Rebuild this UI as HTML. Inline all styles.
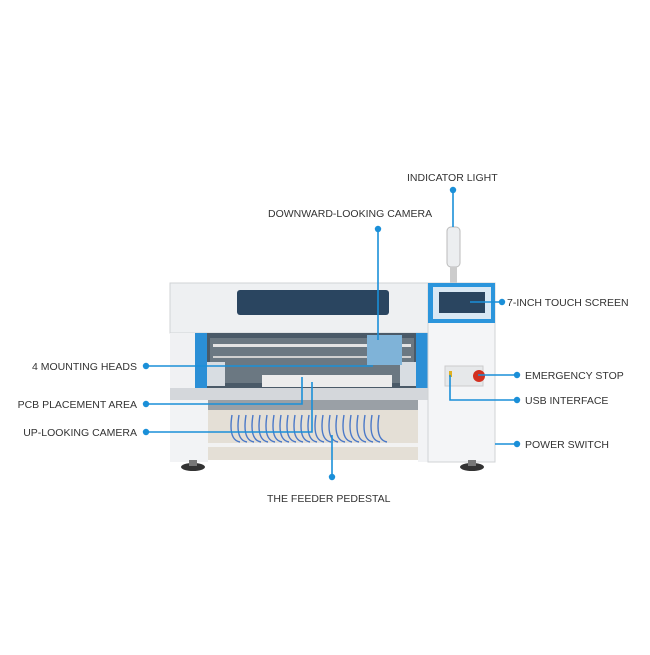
<!DOCTYPE html>
<html><head><style>
body{margin:0;background:#fff;}
svg text{font-family:"Liberation Sans",sans-serif;font-size:10.5px;fill:#333;}
</style></head><body>
<svg width="650" height="650" viewBox="0 0 650 650" xmlns="http://www.w3.org/2000/svg">
<rect width="650" height="650" fill="#fff"/>
<!-- indicator light -->
<rect x="447" y="227" width="13" height="40" rx="4" fill="#eceef0" stroke="#bbb"/>
<rect x="450" y="267" width="7" height="16" fill="#ccc"/>
<!-- machine body -->
<rect x="170" y="283" width="258" height="50" fill="#eef0f2" stroke="#d0d3d6"/>
<rect x="237" y="290" width="152" height="25" rx="3" fill="#2a4560"/>
<rect x="195" y="333" width="233" height="55" fill="#4a5a68"/>
<rect x="195" y="333" width="12" height="55" fill="#2b8fd6"/>
<rect x="416" y="333" width="12" height="55" fill="#2b8fd6"/>
<rect x="210" y="338" width="204" height="45" fill="#6b7882"/>
<rect x="213" y="344" width="198" height="3" fill="#e4e4e4"/>
<rect x="213" y="356" width="198" height="2" fill="#d0d0d0"/>
<rect x="207" y="362" width="18" height="24" fill="#d8dde2"/>
<rect x="400" y="362" width="16" height="24" fill="#d8dde2"/>
<rect x="367" y="335" width="35" height="30" fill="#7fb3d8"/>
<rect x="262" y="375" width="130" height="12" fill="#ececec"/>
<rect x="170" y="333" width="25" height="60" fill="#f0f1f3"/>
<rect x="170" y="388" width="258" height="12" fill="#d4d7db"/>
<rect x="170" y="400" width="38" height="62" fill="#f2f3f5"/>
<rect x="208" y="400" width="210" height="10" fill="#9aa0a6"/>
<rect x="208" y="410" width="210" height="50" fill="#e4dfd6"/>
<g stroke="#4a78c8" stroke-width="1.4" fill="none">
<path d="M232 415 Q228 440 240 442 M239 415 Q235 440 247 442 M246 415 Q242 440 254 442 M253 415 Q249 440 261 442 M260 415 Q256 440 268 442 M267 415 Q263 440 275 442 M274 415 Q270 440 282 442 M281 415 Q277 440 289 442 M288 415 Q284 440 296 442 M295 415 Q291 440 303 442 M302 415 Q298 440 310 442 M309 415 Q305 440 317 442 M316 415 Q312 440 324 442 M323 415 Q319 440 331 442 M330 415 Q326 440 338 442 M337 415 Q333 440 345 442 M344 415 Q340 440 352 442 M351 415 Q347 440 359 442 M358 415 Q354 440 366 442 M365 415 Q361 440 373 442 M372 415 Q368 440 380 442 M379 415 Q375 440 387 442"/>
</g>
<rect x="208" y="443" width="210" height="4" fill="#f2f2f2"/>
<rect x="418" y="400" width="10" height="62" fill="#f2f3f5"/>
<!-- right column -->
<rect x="428" y="283" width="67" height="179" fill="#f4f5f7" stroke="#d0d3d6"/>
<rect x="428" y="283" width="67" height="40" fill="#2b95dc"/>
<rect x="433" y="287" width="58" height="32" fill="#d9e8f4"/>
<rect x="439" y="292" width="46" height="21" fill="#2a4560"/>
<rect x="445" y="366" width="38" height="20" fill="#e6e8ea" stroke="#ccc"/>
<circle cx="479" cy="376" r="6" fill="#d23020"/>
<rect x="449" y="371" width="3" height="6" fill="#e0b020"/>
<!-- feet -->
<ellipse cx="193" cy="467" rx="12" ry="4" fill="#333"/>
<ellipse cx="472" cy="467" rx="12" ry="4" fill="#333"/>
<rect x="189" y="460" width="8" height="6" fill="#777"/>
<rect x="468" y="460" width="8" height="6" fill="#777"/>
<!-- connectors -->
<g stroke="#1a8fd8" stroke-width="1.6" fill="none">
<path d="M453 190 V227"/>
<path d="M378 229 V340"/>
<path d="M470 302 H502"/>
<path d="M146 366 H373"/>
<path d="M146 404 H302 V377"/>
<path d="M146 432 H312 V382"/>
<path d="M332 435 V477"/>
<path d="M478 375 H517"/>
<path d="M450 375 V400 H517"/>
<path d="M495 444 H517"/>
</g>
<g fill="#1a8fd8">
<circle cx="453" cy="190" r="3.2"/><circle cx="378" cy="229" r="3.2"/>
<circle cx="502" cy="302" r="3.2"/><circle cx="146" cy="366" r="3.2"/>
<circle cx="146" cy="404" r="3.2"/><circle cx="146" cy="432" r="3.2"/>
<circle cx="332" cy="477" r="3.2"/><circle cx="517" cy="375" r="3.2"/>
<circle cx="517" cy="400" r="3.2"/><circle cx="517" cy="444" r="3.2"/>
</g>
<text x="407" y="181">INDICATOR LIGHT</text>
<text x="268" y="217">DOWNWARD-LOOKING CAMERA</text>
<text x="507" y="306">7-INCH TOUCH SCREEN</text>
<text x="137" y="370" text-anchor="end">4 MOUNTING HEADS</text>
<text x="137" y="408" text-anchor="end">PCB PLACEMENT AREA</text>
<text x="137" y="436" text-anchor="end">UP-LOOKING CAMERA</text>
<text x="267" y="502">THE FEEDER PEDESTAL</text>
<text x="525" y="379">EMERGENCY STOP</text>
<text x="525" y="404">USB INTERFACE</text>
<text x="525" y="448">POWER SWITCH</text>
</svg>
</body></html>
